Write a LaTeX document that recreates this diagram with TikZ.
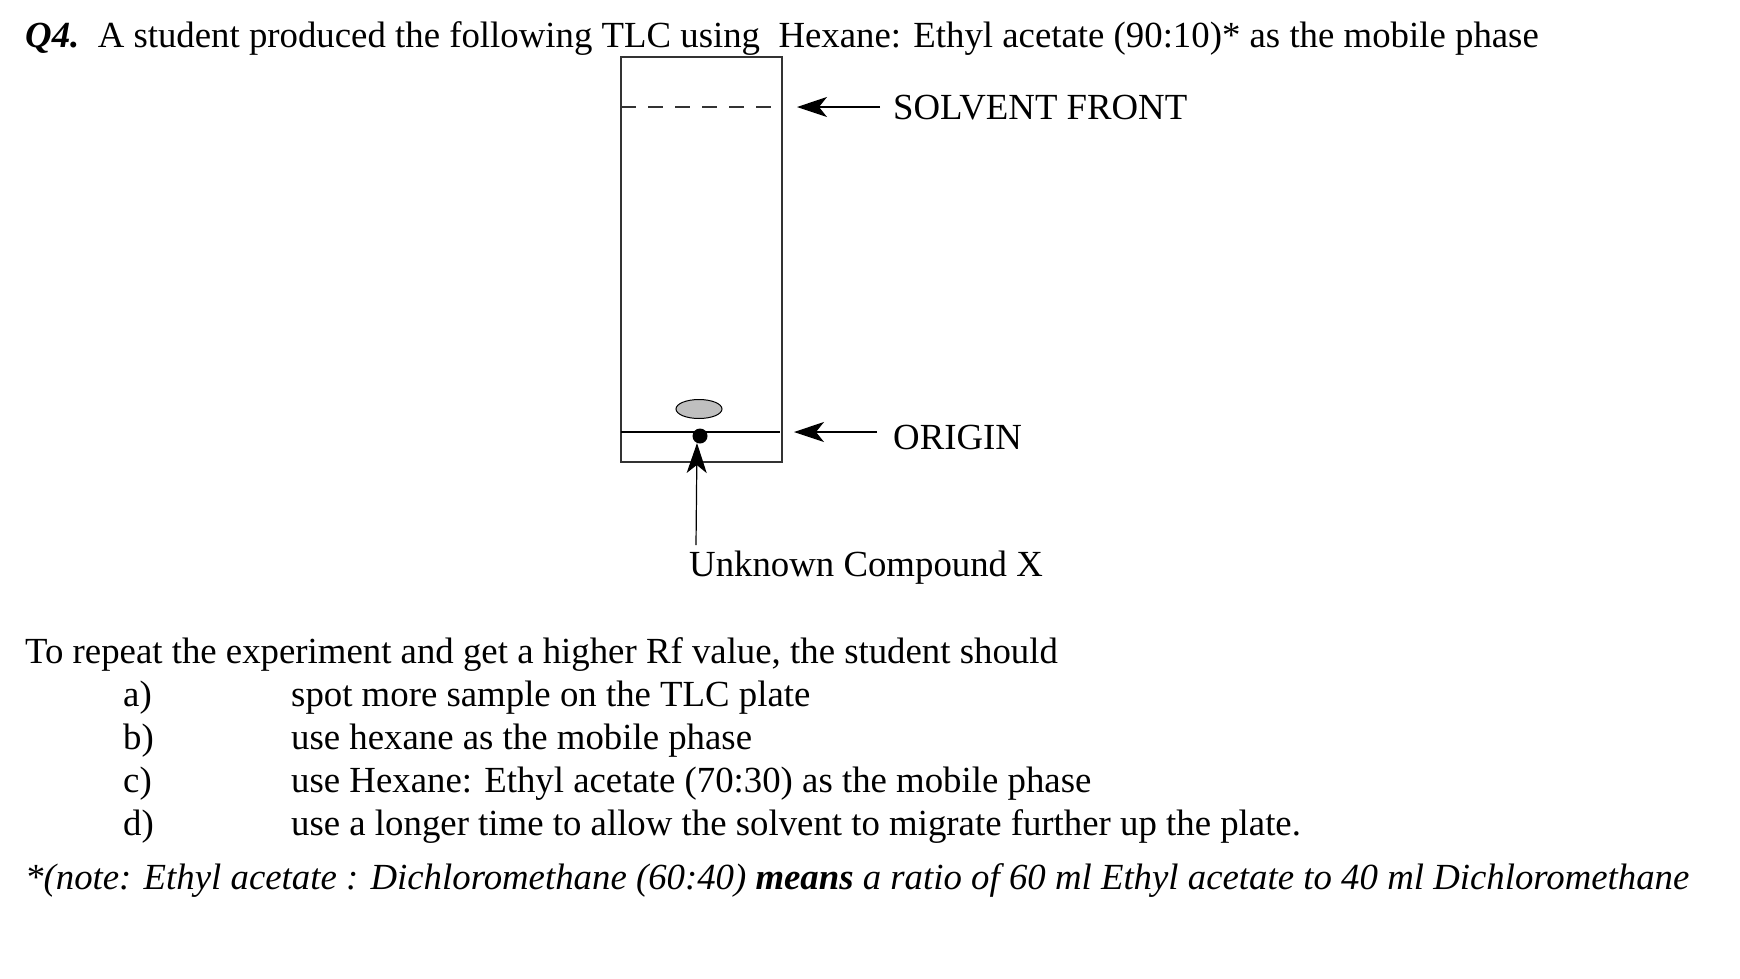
\documentclass[tikz,border=0pt]{standalone}
\usepackage{fontspec}
\setmainfont{Liberation Serif}
\usetikzlibrary{arrows.meta,shapes.geometric}
\begin{document}
\begin{tikzpicture}[x=1pt,y=-1pt,
  txt/.style={anchor=base west,inner sep=0pt,font=\fontsize{36.8}{42}\selectfont},
  plate/.style={draw=black!80,line width=1.3pt},
  arr/.style={line width=1.2pt,-{Stealth[length=30pt,width=20pt,inset=8pt]}}]
\useasboundingbox (0,0) rectangle (1740,978);
\node[txt] (title) at (25,47) {\textbf{\textit{Q4.}}\ \ A student produced the following TLC using\ \ Hexane: Ethyl acetate (90:10)* as the mobile phase};
\draw[plate] (621,57) rectangle (782,462);
\draw[plate,dash pattern=on 15pt off 12pt] (621,107) -- (782,107);
\draw[line width=1.2pt] (621,432) -- (780,432);
\node[ellipse,draw,fill=black!25,minimum width=46pt,minimum height=19pt,inner sep=0pt,line width=1pt] (spot) at (699,409) {};
\node[circle,fill=black,minimum size=15pt,inner sep=0pt] (dot) at (700,436) {};
\node[txt] (sf) at (893,119) {SOLVENT FRONT};
\node[txt] (or) at (893,449) {ORIGIN};
\coordinate (sfs) at (880,107); \coordinate (sfe) at (797,107);
\coordinate (ors) at (877,432); \coordinate (ore) at (794,432);
\draw[arr] (sfs) -- (sfe);
\draw[arr] (ors) -- (ore);
\node[txt] (unk) at (689,576) {Unknown Compound X};
\coordinate (us) at (696,545); \coordinate (ue) at (697,443);
\draw[arr] (us) -- (ue);
\node[txt] (q) at (25,663) {To repeat the experiment and get a higher Rf value, the student should};
\node[txt] (la) at (123,706) {a)}; \node[txt] (ta) at (291,706) {spot more sample on the TLC plate};
\node[txt] (lb) at (123,749) {b)}; \node[txt] (tb) at (291,749) {use hexane as the mobile phase};
\node[txt] (lc) at (123,792) {c)}; \node[txt] (tc) at (291,792) {use Hexane: Ethyl acetate (70:30) as the mobile phase};
\node[txt] (ld) at (123,835) {d)}; \node[txt] (td) at (291,835) {use a longer time to allow the solvent to migrate further up the plate.};
\node[txt] (note) at (25,889) {\textit{*(note: Ethyl acetate : Dichloromethane (60:40) \textbf{means} a ratio of 60 ml Ethyl acetate to 40 ml Dichloromethane}};
\end{tikzpicture}
\end{document}
